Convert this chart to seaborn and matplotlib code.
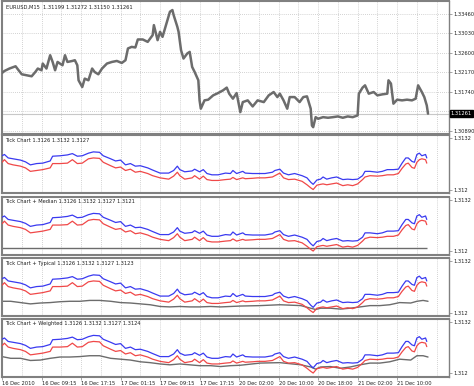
import matplotlib.pyplot as plt
import matplotlib.transforms as mtransforms
import seaborn as sns

# ------------------------------------------------------------
# Data (x = M15 bar number)
# ------------------------------------------------------------
price_bar = [0, 2, 6, 11, 13, 16, 20, 24, 27, 29, 32, 33, 36, 39, 41, 43, 45, 49, 51, 53,
             57, 59, 61, 62, 65, 67, 70, 73, 75, 78, 81, 85, 89, 93, 97, 100, 102, 105, 108, 110,
             114, 118, 122, 123, 126, 128, 130, 134, 136, 138, 139, 142, 143, 145, 147, 150, 152, 154, 156, 159,
             160, 161, 164, 167, 171, 175, 179, 182, 184, 187, 190, 193, 195, 199, 203, 207, 212, 216, 220, 223,
             225, 228, 231, 233, 237, 241, 244, 247, 250, 251, 252, 254, 256, 260, 264, 268, 272, 276, 280, 284,
             288, 289, 292, 294, 297, 301, 304, 308, 312, 313, 315, 317, 320, 324, 328, 332, 335, 337, 340, 342,
             344, 345]
price_close = [1.32155, 1.32199, 1.32252, 1.32302, 1.32230, 1.32126, 1.32104, 1.32082, 1.32177, 1.32252,
               1.32214, 1.32362, 1.32252, 1.32545, 1.32397, 1.32214, 1.32397, 1.32324, 1.32545, 1.32397,
               1.32419, 1.32435, 1.32324, 1.31994, 1.31846, 1.32031, 1.31994, 1.32252, 1.32177, 1.32126,
               1.32252, 1.32362, 1.32397, 1.32419, 1.32375, 1.32435, 1.32693, 1.32728, 1.32715, 1.32891,
               1.32891, 1.32838, 1.32986, 1.33206, 1.32876, 1.33059, 1.32948, 1.33317, 1.33500, 1.33537,
               1.33427, 1.33169, 1.33059, 1.32655, 1.32472, 1.32582, 1.32618, 1.32287, 1.32177, 1.31994,
               1.31553, 1.31370, 1.31553, 1.31568, 1.31663, 1.31714, 1.31773, 1.31833, 1.31700, 1.31590,
               1.31714, 1.31295, 1.31515, 1.31553, 1.31420, 1.31553, 1.31515, 1.31663, 1.31736, 1.31625,
               1.31700, 1.31553, 1.31370, 1.31625, 1.31625, 1.31515, 1.31625, 1.31641, 1.31370, 1.31001,
               1.30964, 1.31184, 1.31149, 1.31184, 1.31171, 1.31184, 1.31200, 1.31171, 1.31200, 1.31184,
               1.31222, 1.31700, 1.31833, 1.31883, 1.31700, 1.31736, 1.31663, 1.31685, 1.31700, 1.31994,
               1.31921, 1.31480, 1.31568, 1.31553, 1.31568, 1.31553, 1.31590, 1.31883, 1.31736, 1.31625,
               1.31442, 1.31261]

tick_bar = [0, 2, 5, 9, 15, 19, 23, 28, 33, 39,
            41, 47, 53, 57, 61, 65, 70, 74, 79, 82,
            88, 92, 96, 100, 104, 108, 112, 118, 122, 128,
            135, 139, 142, 144, 148, 154, 156, 160, 163, 166,
            170, 175, 181, 185, 187, 190, 195, 197, 203, 207,
            213, 219, 221, 225, 228, 232, 237, 243, 247, 250,
            252, 255, 258, 260, 263, 267, 271, 276, 280, 284,
            288, 292, 294, 298, 304, 308, 312, 317, 321, 324,
            327, 329, 332, 334, 336, 338, 340, 343, 344]
tick_blue = [1.31279, 1.31282, 1.31274, 1.31272, 1.31269, 1.31265, 1.31258, 1.31261, 1.31262, 1.31267,
             1.31278, 1.31279, 1.31281, 1.31284, 1.31278, 1.31279, 1.31285, 1.31288, 1.31287, 1.31279,
             1.31272, 1.31267, 1.31269, 1.31258, 1.31261, 1.31255, 1.31256, 1.31251, 1.31246, 1.31239,
             1.31239, 1.31245, 1.31255, 1.31247, 1.31242, 1.31244, 1.31248, 1.31242, 1.31247, 1.31238,
             1.31235, 1.31235, 1.31239, 1.31238, 1.31245, 1.31238, 1.31243, 1.31239, 1.31238, 1.31238,
             1.31238, 1.31241, 1.31245, 1.31248, 1.31239, 1.31235, 1.31238, 1.31233, 1.31228, 1.31218,
             1.31213, 1.31223, 1.31225, 1.31230, 1.31225, 1.31228, 1.31230, 1.31224, 1.31225, 1.31224,
             1.31225, 1.31233, 1.31243, 1.31243, 1.31241, 1.31243, 1.31247, 1.31247, 1.31248, 1.31262,
             1.31274, 1.31274, 1.31266, 1.31264, 1.31282, 1.31285, 1.31279, 1.31282, 1.31274]
tick_red = [1.31264, 1.31270, 1.31261, 1.31258, 1.31255, 1.31251, 1.31243, 1.31245, 1.31247, 1.31251,
            1.31261, 1.31261, 1.31262, 1.31270, 1.31261, 1.31262, 1.31272, 1.31274, 1.31273, 1.31264,
            1.31256, 1.31251, 1.31253, 1.31245, 1.31248, 1.31241, 1.31243, 1.31238, 1.31233, 1.31228,
            1.31225, 1.31232, 1.31241, 1.31233, 1.31225, 1.31228, 1.31233, 1.31225, 1.31232, 1.31224,
            1.31222, 1.31222, 1.31224, 1.31225, 1.31229, 1.31224, 1.31228, 1.31226, 1.31227, 1.31228,
            1.31228, 1.31230, 1.31233, 1.31239, 1.31228, 1.31224, 1.31225, 1.31220, 1.31212, 1.31205,
            1.31201, 1.31211, 1.31213, 1.31214, 1.31212, 1.31214, 1.31216, 1.31210, 1.31212, 1.31210,
            1.31214, 1.31224, 1.31230, 1.31233, 1.31232, 1.31233, 1.31235, 1.31235, 1.31238, 1.31250,
            1.31260, 1.31262, 1.31252, 1.31250, 1.31264, 1.31270, 1.31272, 1.31270, 1.31262]

avg_bar = [0, 7, 15, 23, 31, 39, 47, 55, 63, 71,
           79, 88, 96, 104, 112, 120, 128, 136, 144, 152,
           160, 169, 177, 185, 193, 209, 225, 242, 250, 254,
           258, 266, 274, 282, 290, 298, 306, 314, 322, 331,
           336, 341, 345]
typical_price = [1.31227, 1.31227, 1.31224, 1.31221, 1.31223, 1.31224, 1.31226, 1.31227, 1.31227, 1.31229,
                 1.31229, 1.31227, 1.31224, 1.31223, 1.31221, 1.31219, 1.31215, 1.31214, 1.31215, 1.31214,
                 1.31214, 1.31215, 1.31214, 1.31215, 1.31216, 1.31217, 1.31219, 1.31217, 1.31211, 1.31208,
                 1.31211, 1.31211, 1.31209, 1.31211, 1.31214, 1.31217, 1.31217, 1.31219, 1.31224, 1.31223,
                 1.31227, 1.31229, 1.31227]
weighted_price = [1.31239, 1.31235, 1.31235, 1.31230, 1.31231, 1.31235, 1.31238, 1.31238, 1.31239, 1.31241,
                  1.31241, 1.31235, 1.31233, 1.31231, 1.31227, 1.31225, 1.31222, 1.31220, 1.31222, 1.31220,
                  1.31218, 1.31218, 1.31216, 1.31218, 1.31219, 1.31224, 1.31225, 1.31220, 1.31215, 1.31210,
                  1.31215, 1.31216, 1.31212, 1.31215, 1.31220, 1.31224, 1.31224, 1.31227, 1.31233, 1.31231,
                  1.31241, 1.31241, 1.31238]
median_price = 1.31208

price_ticks = [1.30890, 1.31310, 1.31740, 1.32170, 1.32600, 1.33030, 1.33460]
price_tick_labels = ["1.30890", "", "1.31740", "1.32170", "1.32600", "1.33030", "1.33460"]
last_price = 1.31261
ind_ticks = [1.312, 1.3132]
ind_tick_labels = ["1.312", "1.3132"]

date_bars = [0, 32, 64, 96, 128, 160, 192, 224, 256, 288, 320]
date_labels = ["16 Dec 2010", "16 Dec 09:15", "16 Dec 17:15", "17 Dec 01:15", "17 Dec 09:15",
               "17 Dec 17:15", "20 Dec 02:00", "20 Dec 10:00", "20 Dec 18:00", "21 Dec 02:00",
               "21 Dec 10:00"]

main_title = "EURUSD,M15  1.31199 1.31272 1.31150 1.31261"
panel_titles = ["Tick Chart 1.3126 1.3132 1.3127",
                "Tick Chart + Median 1.3126 1.3132 1.3127 1.3121",
                "Tick Chart + Typical 1.3126 1.3132 1.3127 1.3123",
                "Tick Chart + Weighted 1.3126 1.3132 1.3127 1.3124"]

# ------------------------------------------------------------
# Style
# ------------------------------------------------------------
sns.set_style("white")
plt.rcParams["font.family"] = ["DejaVu Sans"]

FS = 3.7
BORDER = "#808080"
GRID = "#c4c4c4"
BLUE = "#3a3af0"
RED = "#f04848"
GRAY = "#6c6c6c"

W, H = 474, 386
fig = plt.figure(figsize=(W / 100, H / 100), dpi=100)
fig.patch.set_facecolor("white")


def panel(top, bottom):
    return fig.add_axes([2 / W, 1 - bottom / H, 447 / W, (bottom - top) / H])


def style_axes(ax):
    for s in ax.spines.values():
        s.set_color(BORDER)
        s.set_linewidth(1.5)
    ax.spines["right"].set_linewidth(1.0)
    ax.set_xlim(0, 362)
    ax.set_xticks([])
    ax.grid(False)
    for xb in range(16, 362, 16):
        ax.axvline(xb, color=GRID, lw=0.6, ls=(0, (1, 1.5)), zorder=0)
    ax.yaxis.tick_right()
    ax.tick_params(axis="y", right=True, length=2, width=0.5, color=BORDER,
                   pad=1.5, labelsize=FS, labelcolor="#202020")
    ax.tick_params(axis="x", which="both", bottom=False, labelbottom=False)


# main price window
ax0 = panel(1, 133.5)
style_axes(ax0)
ax0.set_ylim(1.30825, 1.33736)
ax0.set_yticks(price_ticks)
ax0.set_yticklabels(price_tick_labels)
for lv in price_ticks:
    ax0.axhline(lv, color=GRID, lw=0.6, ls=(0, (1, 1.5)), zorder=0)
ax0.axhline(last_price, color="#c8c8c8", lw=0.8, zorder=1)
sns.lineplot(x=price_bar, y=price_close, ax=ax0, color=GRAY, lw=1.8,
             estimator=None, sort=False, zorder=3)
ax0.set_xlabel("")
ax0.set_ylabel("")
ax0.text(0.008, 0.975, main_title, transform=ax0.transAxes, fontsize=FS,
         va="top", ha="left", color="#202020")
trans = mtransforms.blended_transform_factory(ax0.transAxes, ax0.transData)
ax0.text(1.004, last_price, "1.31261", transform=trans, fontsize=FS, color="white",
         va="center", ha="left", clip_on=False,
         bbox=dict(boxstyle="square,pad=0.25", fc="black", ec="black"))

# indicator windows
tops = [135, 196.5, 258, 318.5]
ind_axes = []
for i, top in enumerate(tops):
    ax = panel(top, top + 58)
    style_axes(ax)
    ax.set_ylim(1.31193, 1.31327)
    ax.set_yticks(ind_ticks)
    ax.set_yticklabels(ind_tick_labels)
    ax.text(0.008, 0.955, panel_titles[i], transform=ax.transAxes, fontsize=FS,
            va="top", ha="left", color="#202020")
    if i == 1:
        ax.hlines(median_price, tick_bar[0], tick_bar[-1], color=GRAY, lw=1.0, zorder=2)
    elif i == 2:
        sns.lineplot(x=avg_bar, y=typical_price, ax=ax, color=GRAY, lw=1.0,
                     estimator=None, sort=False, zorder=2)
    elif i == 3:
        sns.lineplot(x=avg_bar, y=weighted_price, ax=ax, color=GRAY, lw=1.0,
                     estimator=None, sort=False, zorder=2)
    sns.lineplot(x=tick_bar, y=tick_red, ax=ax, color=RED, lw=0.9,
                 estimator=None, sort=False, zorder=3)
    sns.lineplot(x=tick_bar, y=tick_blue, ax=ax, color=BLUE, lw=0.9,
                 estimator=None, sort=False, zorder=4)
    ax.set_xlabel("")
    ax.set_ylabel("")
    ind_axes.append(ax)

# time axis under the last window
axb = ind_axes[-1]
axb.set_xticks(date_bars)
axb.set_xticklabels(date_labels)
axb.tick_params(axis="x", which="major", bottom=True, labelbottom=True, length=2,
                width=0.5, color=BORDER, pad=1, labelsize=FS, labelcolor="#202020")
for lab in axb.get_xticklabels():
    lab.set_horizontalalignment("left")

fig.savefig("out.png", dpi=100, facecolor="white")
